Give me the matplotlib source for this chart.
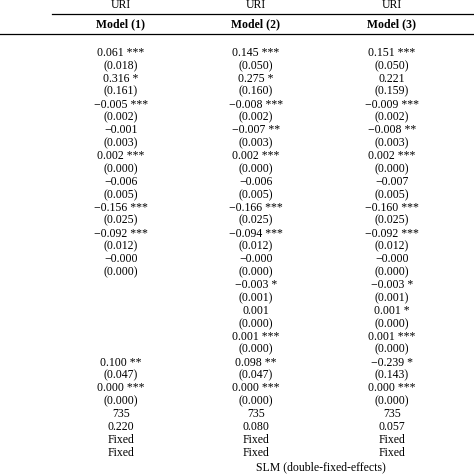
import matplotlib.pyplot as plt

models = ["Model (1)", "Model (2)", "Model (3)"]
col1 = ["0.061 ***", "(0.018)", "0.316 *", "(0.161)", "\u22120.005 ***", "(0.002)",
        "\u22120.001", "(0.003)", "0.002 ***", "(0.000)", "\u22120.006", "(0.005)",
        "\u22120.156 ***", "(0.025)", "\u22120.092 ***", "(0.012)", "\u22120.000", "(0.000)",
        "", "", "", "", "", "",
        "0.100 **", "(0.047)", "0.000 ***", "(0.000)", "735", "0.220", "Fixed", "Fixed"]
col2 = ["0.145 ***", "(0.050)", "0.275 *", "(0.160)", "\u22120.008 ***", "(0.002)",
        "\u22120.007 **", "(0.003)", "0.002 ***", "(0.000)", "\u22120.006", "(0.005)",
        "\u22120.166 ***", "(0.025)", "\u22120.094 ***", "(0.012)", "\u22120.000", "(0.000)",
        "\u22120.003 *", "(0.001)", "0.001", "(0.000)", "0.001 ***", "(0.000)",
        "0.098 **", "(0.047)", "0.000 ***", "(0.000)", "735", "0.080", "Fixed", "Fixed"]
col3 = ["0.151 ***", "(0.050)", "0.221", "(0.159)", "\u22120.009 ***", "(0.002)",
        "\u22120.008 **", "(0.003)", "0.002 ***", "(0.000)", "\u22120.007", "(0.005)",
        "\u22120.160 ***", "(0.025)", "\u22120.092 ***", "(0.012)", "\u22120.000", "(0.000)",
        "\u22120.003 *", "(0.001)", "0.001 *", "(0.000)", "0.001 ***", "(0.000)",
        "\u22120.239 *", "(0.143)", "0.000 ***", "(0.000)", "735", "0.057", "Fixed", "Fixed"]
footer = "SLM (double-fixed-effects)"

plt.rcParams['font.family'] = ['Liberation Serif', 'DejaVu Serif']
fig = plt.figure(figsize=(4.74, 4.74), dpi=100)
ax = fig.add_axes([0, 0, 1, 1])
ax.set_xlim(0, 474)
ax.set_ylim(474, 0)
ax.axis("off")

xs = [121, 256, 392]
fs = 8.5
for x, m in zip(xs, models):
    ax.text(x, 5, "URI", ha="center", va="center", fontsize=fs)
    ax.text(x, 24, m, ha="center", va="center", fontsize=fs, fontweight="bold")
ax.plot([52, 474], [14, 14], color="black", lw=0.9)
ax.plot([0, 474], [34, 34], color="black", lw=0.9)

step = 12.9
for x, col in zip(xs, [col1, col2, col3]):
    for i, s in enumerate(col):
        ax.text(x, 53 + i * step, s, ha="center", va="center", fontsize=fs)
ax.text(xs[1] + 65, 467, footer, ha="center", va="center", fontsize=fs)

fig.savefig("out.png", dpi=100, facecolor="white")
